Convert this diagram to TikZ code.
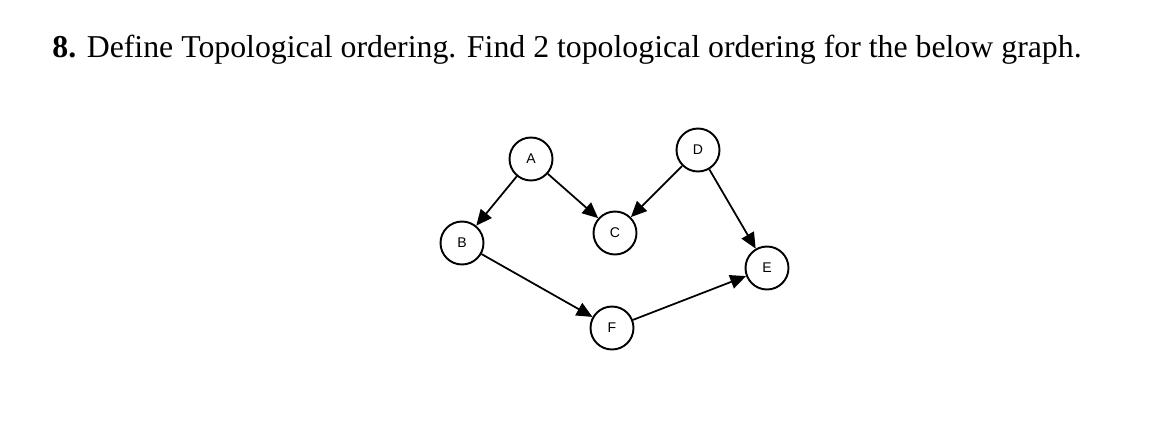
\documentclass[tikz,border=0pt]{standalone}
\usepackage{fontspec}
\setmainfont{Liberation Serif}
\newfontfamily\lblfont{Liberation Sans}
\usetikzlibrary{arrows.meta}
\begin{document}
\begin{tikzpicture}[x=0.02cm,y=-0.02cm,
  vert/.style={circle,draw,line width=1.1pt,minimum size=0.86cm,inner sep=0pt,font=\lblfont\fontsize{8}{9}\selectfont},
  edge/.style={line width=1pt,-{Triangle[length=9pt,width=8pt]}}]
\useasboundingbox (0,0) rectangle (1164,420);
\node[anchor=west,font=\fontsize{18.1}{21}\selectfont,inner sep=0pt] (t) at (52,50) {\textbf{8.} Define Topological ordering. Find 2 topological ordering for the below graph.};
\node[vert] (A) at (531,159) {A};
\node[vert] (B) at (462,243) {B};
\node[vert] (C) at (615,233) {C};
\node[vert] (D) at (698,150) {D};
\node[vert] (E) at (767,268) {E};
\node[vert] (F) at (612,328) {F};
\draw[edge] (A) -- (B);
\draw[edge] (A) -- (C);
\draw[edge] (D) -- (C);
\draw[edge] (D) -- (E);
\draw[edge] (B) -- (F);
\draw[edge] (F) -- (E);
\end{tikzpicture}
\end{document}
